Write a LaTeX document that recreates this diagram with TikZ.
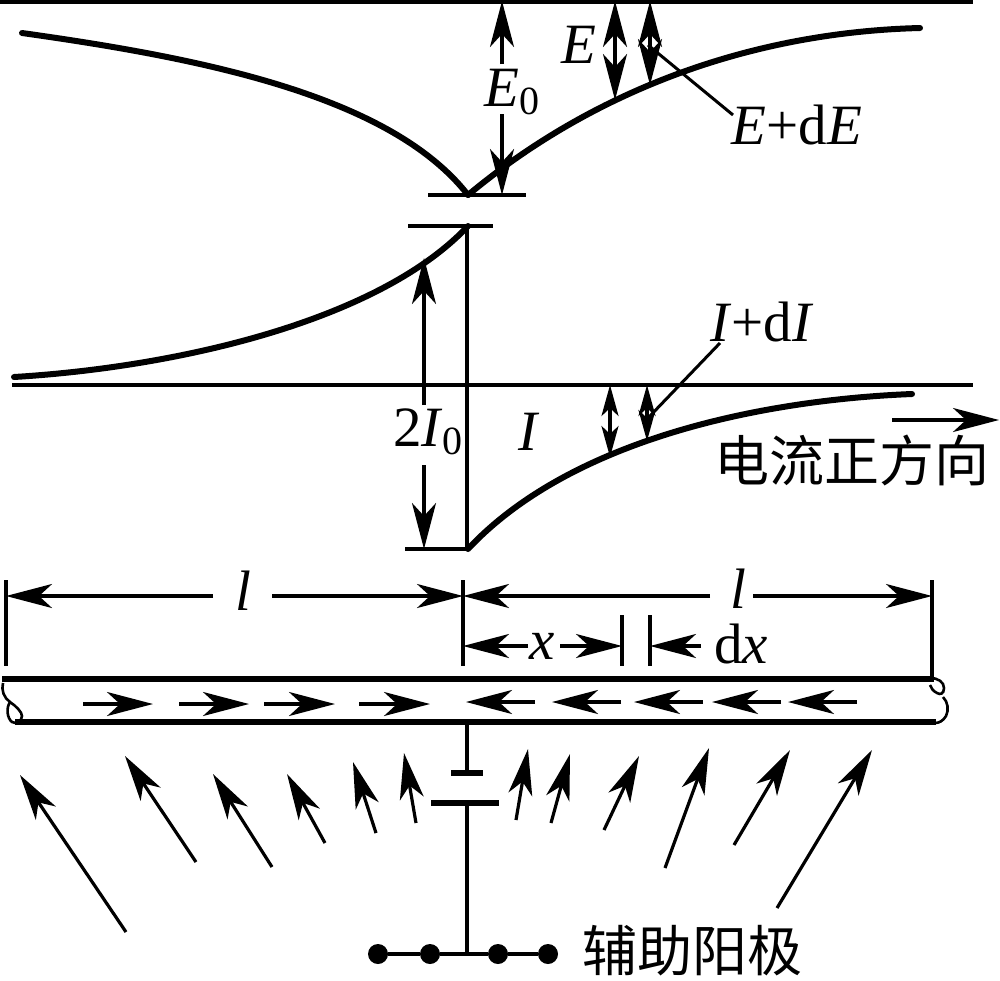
\documentclass[tikz,border=0pt]{standalone}
\usepackage{fontspec}
\setmainfont{Liberation Serif}
\newfontfamily\cjk{Noto Sans CJK SC}
\usetikzlibrary{arrows.meta}
\tikzset{
  x=1pt,y=-1pt,
  thinline/.style={line width=3.4pt},
  curve/.style={line width=6pt,line cap=round},
  tube/.style={line width=6pt},
  bigtip/.tip={Stealth[length=46pt,width=24pt,inset=13pt]},
  smalltip/.tip={Stealth[length=31pt,width=17pt,inset=8pt]},
  arr/.style={line width=3.2pt,-bigtip},
  darr/.style={line width=3.2pt,bigtip-bigtip},
  sdarr/.style={line width=3.2pt,smalltip-smalltip},
  lbl/.style={font=\fontsize{57}{57}\selectfont,inner sep=0pt},
  cn/.style={font=\fontsize{55}{55}\selectfont\cjk\mdseries,inner sep=0pt},
  dot/.style={circle,fill=black,inner sep=0pt,minimum size=20pt},
}
\begin{document}
\begin{tikzpicture}
\useasboundingbox (0,0) rectangle (1000,980);
% level lines
\draw[thinline] (0,2) -- (973,2);
\draw[thinline] (12,385) -- (973,385);
\draw[thinline] (428,195) -- (526,195);
\draw[thinline] (408,226) -- (493,226);
\draw[thinline] (405,549) -- (468,549);
\draw[thinline] (467,226) -- (467,549);
% curves
\draw[curve] (22,33) .. controls (200,58) and (390,95) .. (468,195);
\draw[curve] (468,195) .. controls (600,85) and (760,32) .. (920,28);
\draw[curve] (14,377) .. controls (180,367) and (380,320) .. (468,226);
\draw[curve] (468,549) .. controls (570,440) and (760,400) .. (912,394);
% E dimensions
\coordinate (e0t) at (502,1); \coordinate (e0b) at (502,195);
\node[lbl] (e0) at (512,92) {\textit{E}\raisebox{-8pt}{\fontsize{40}{40}\selectfont 0}};
\draw[arr] (502,64) -- (e0t);
\draw[arr] (502,114) -- (e0b);
\draw[darr] (615,1) -- (615,100);
\draw[darr] (650,1) -- (650,85);
\node[lbl] (e) at (579,45) {\textit{E}};
\node[lbl] (edE) at (797,125) {\textit{E}+d\textit{E}};
\coordinate (lead1) at (648,45);
\draw[line width=3pt] (lead1) -- (733,115);
% I dimensions
\node[lbl] (twoI) at (428,432) {2\textit{I}\raisebox{-8pt}{\fontsize{40}{40}\selectfont 0}};
\coordinate (it) at (424,258); \coordinate (ib) at (424,549);
\draw[arr] (424,405) -- (it);
\draw[arr] (424,465) -- (ib);
\node[lbl] (I) at (529,432) {\textit{I}};
\draw[sdarr] (610,385) -- (610,457);
\draw[sdarr] (647,385) -- (647,441);
\node[lbl] (IdI) at (762,322) {\textit{I}+d\textit{I}};
\coordinate (lead2) at (648,418);
\draw[line width=3pt] (lead2) -- (720,343);
\draw[arr] (892,420) -- (999,420);
\node[cn] (dir) at (852,460) {电流正方向};
% l dimensions
\draw[thinline] (6,580) -- (6,666);
\draw[thinline] (463,580) -- (463,666);
\draw[thinline] (932,580) -- (932,682);
\draw[thinline] (622,615) -- (622,666);
\draw[thinline] (650,615) -- (650,666);
\node[lbl] (l1) at (243,591) {\textit{l}};
\node[lbl] (l2) at (738,589) {\textit{l}};
\node[lbl] (x) at (542,646) {\textit{x}};
\node[lbl] (dx) at (741,644) {d\textit{x}};
\draw[arr] (213,596) -- (6,596);
\draw[arr] (272,596) -- (463,596);
\draw[arr] (710,596) -- (463,596);
\draw[arr] (753,596) -- (932,596);
\draw[arr] (528,646) -- (463,646);
\draw[arr] (560,646) -- (622,646);
\draw[arr] (701,646) -- (650,646);
% tube
\draw[tube] (2,679) -- (932,679);
\draw[tube] (15,722) -- (936,722);
\draw[line width=2.6pt] (3,683) .. controls (1,690) and (4,698) .. (10,702) .. controls (16,706) and (22,712) .. (22,716) .. controls (22,722) and (15,724) .. (12,722) .. controls (7,718) and (6,708) .. (10,702);
\draw[line width=2.6pt] (930,678) .. controls (938,678) and (944,682) .. (944,688) .. controls (944,694) and (940,695) .. (937,693) .. controls (933,691) and (931,688) .. (930,685);
\draw[line width=2.6pt] (943,697) .. controls (948,702) and (949,710) .. (946,716) .. controls (943,721) and (939,723) .. (935,723);
% current arrows in tube
\draw[arr] (83,704) -- (153,704);
\draw[arr] (179,704) -- (249,704);
\draw[arr] (264,704) -- (335,704);
\draw[arr] (359,704) -- (430,704);
\draw[arr] (535,702) -- (466,702);
\draw[arr] (621,702) -- (552,702);
\draw[arr] (703,702) -- (634,702);
\draw[arr] (781,702) -- (712,702);
\draw[arr] (857,702) -- (788,702);
% capacitor / anode
\draw[thinline] (467,722) -- (467,773);
\draw[line width=6pt] (451,773) -- (483,773);
\draw[line width=6pt] (431,803) -- (499,803);
\draw[thinline] (467,803) -- (467,954);
\node[dot] (d1) at (378,954) {};
\node[dot] (d2) at (430,954) {};
\node[dot] (d3) at (498,954) {};
\node[dot] (d4) at (548,954) {};
\draw[thinline] (d1) -- (d2) -- (d3) -- (d4);
\node[cn] (anode) at (692,951) {辅助阳极};
% field arrows
\draw[arr] (126,932) -- (20,775);
\draw[arr] (196,862) -- (125,756);
\draw[arr] (272,867) -- (213,774);
\draw[arr] (325,843) -- (287,774);
\draw[arr] (376,833) -- (353,762);
\draw[arr] (416,823) -- (404,753);
\draw[arr] (516,820) -- (528,749);
\draw[arr] (551,823) -- (570,754);
\draw[arr] (604,830) -- (639,756);
\draw[arr] (665,868) -- (709,748);
\draw[arr] (734,845) -- (790,750);
\draw[arr] (777,908) -- (872,750);
\end{tikzpicture}
\end{document}
